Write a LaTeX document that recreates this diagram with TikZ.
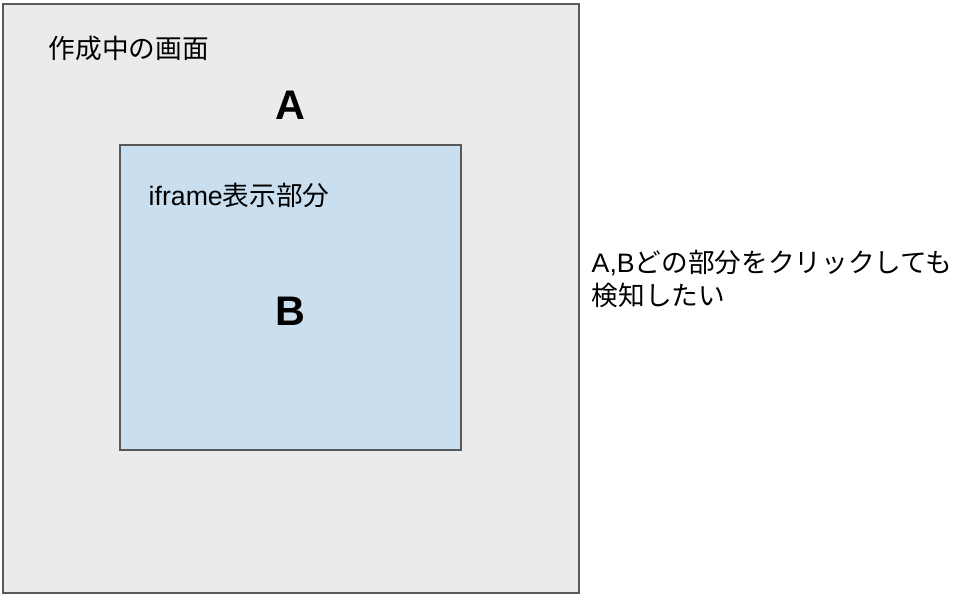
\documentclass[tikz,border=0pt]{standalone}
\usepackage{fontspec}
\setmainfont{Liberation Sans}
\newfontfamily\cjk{Noto Sans CJK JP}
\definecolor{screengray}{HTML}{EBEBEB}
\definecolor{framebluefill}{HTML}{C9DFF0}
\definecolor{edgegray}{HTML}{595959}
\tikzset{
  pagebox/.style={draw=edgegray,line width=0.9pt},
  jptext/.style={font=\fontsize{20}{25}\selectfont\cjk},
  bigletter/.style={font=\fontsize{31}{36}\selectfont\bfseries}
}
\begin{document}
\begin{tikzpicture}[x=0.75pt,y=-0.75pt]
    \useasboundingbox (0,0) rectangle (969,597);
    % draw outer screen and iframe area
    \draw[pagebox,fill=screengray] (3,4) rectangle (579,593);
    \draw[pagebox,fill=framebluefill] (120,145) rectangle (461,450);
    \node[jptext,anchor=west] (screenlabel) at (44,48) {作成中の画面};
    \node[bigletter] (letterA) at (290,105) {A};
    \node[jptext,anchor=west] (framelabel) at (144,195) {{\fontsize{20}{25}\selectfont\rmfamily iframe}表示部分};
    \node[bigletter] (letterB) at (290,311) {B};
    \node[jptext,anchor=west,align=left] (note) at (587,279) {{\fontsize{20}{25}\selectfont\rmfamily A,B}どの部分をクリックしても\\検知したい};
\end{tikzpicture}
\end{document}
